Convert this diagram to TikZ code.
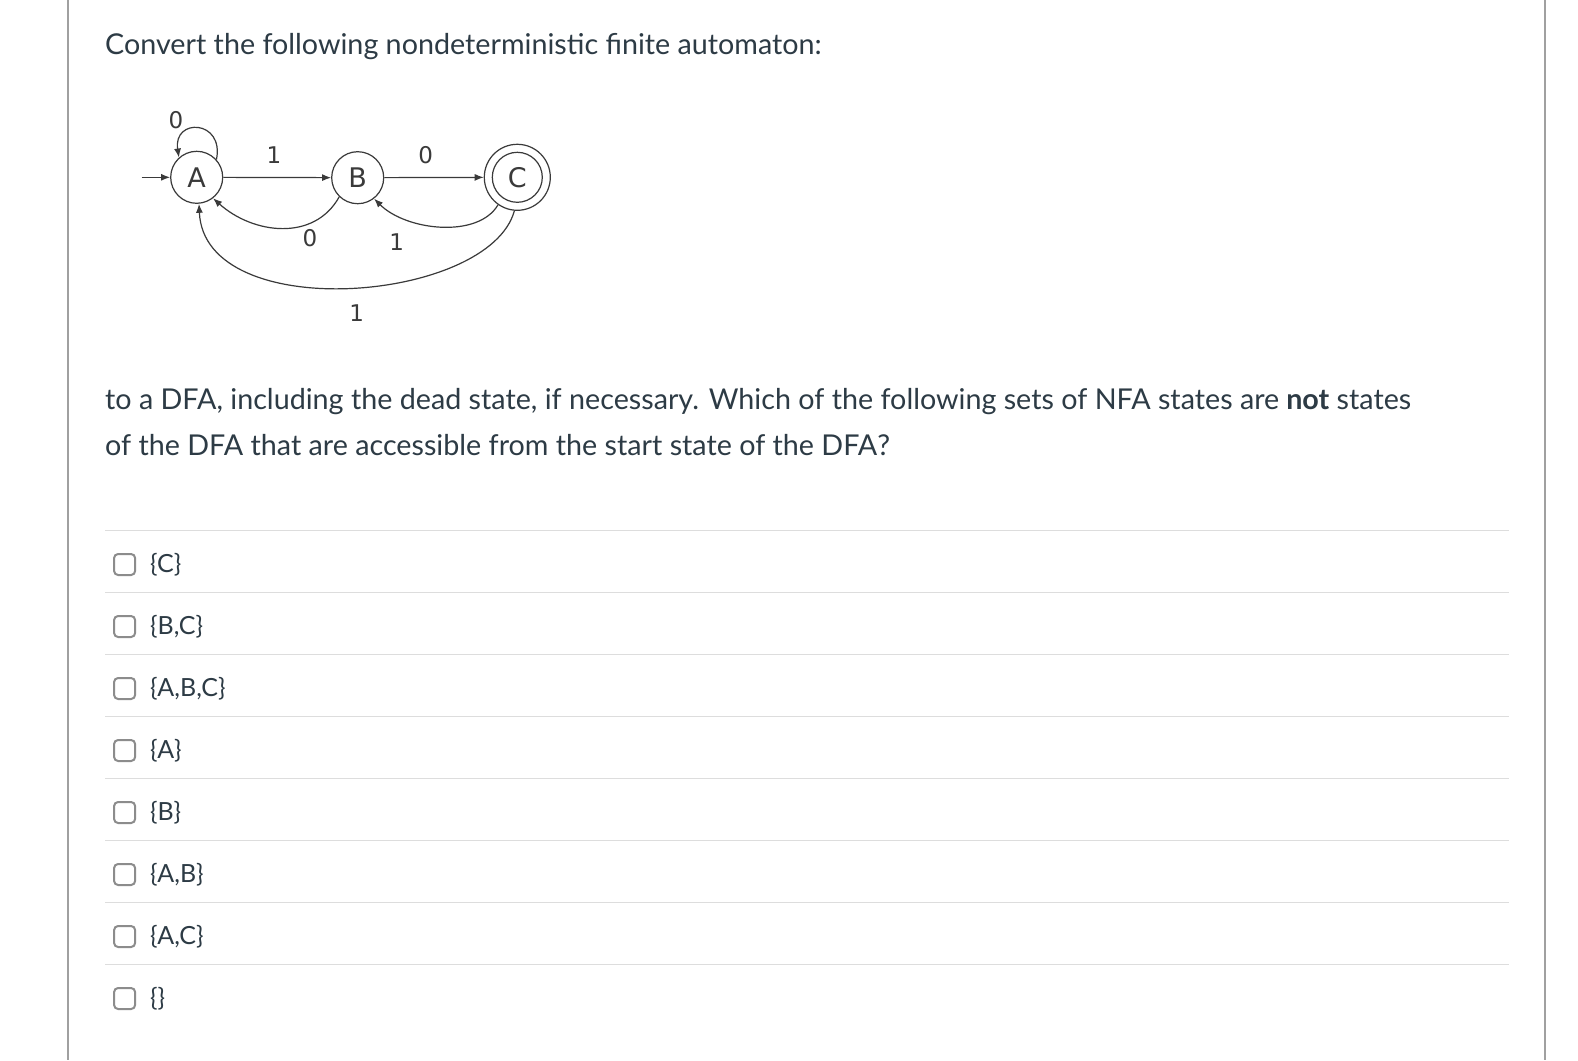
\documentclass[tikz,border=0pt]{standalone}
\usepackage{fontspec}
\setmainfont{Lato}
\newfontfamily\autofont{DejaVu Sans}
\usetikzlibrary{arrows.meta}
\definecolor{canvastext}{HTML}{2D3B45}
\definecolor{bordergray}{HTML}{A0A0A0}
\definecolor{rulegray}{HTML}{DDDDDD}
\definecolor{boxgray}{HTML}{8C8C8C}
\definecolor{nfagray}{HTML}{3A3A3A}
\tikzset{
  txt/.style={anchor=base west, inner sep=0pt, text=canvastext, font=\fontsize{28.7}{35}\selectfont},
  opttxt/.style={anchor=base west, inner sep=0pt, text=canvastext, font=\fontsize{25}{30}\selectfont},
  optbox/.style={draw=boxgray, line width=2pt, rounded corners=4pt, minimum size=21pt, inner sep=0pt},
  state/.style={circle, draw=nfagray, line width=1.2pt, minimum size=52pt, inner sep=0pt, text=nfagray, font=\autofont\fontsize{27}{30}\selectfont},
  lbl/.style={inner sep=0pt, text=nfagray, font=\autofont\fontsize{23}{26}\selectfont},
  trans/.style={draw=nfagray, line width=1.2pt, -{Latex[length=9pt,width=7pt]}},
}
\begin{document}
\begin{tikzpicture}[x=1pt,y=-1pt]
\useasboundingbox (0,0) rectangle (1578,1060);
\fill[white] (0,0) rectangle (1578,1060);
\draw[bordergray, line width=2pt] (68.3,0)--(68.3,1060);
\draw[bordergray, line width=2pt] (1545.3,0)--(1545.3,1060);

\node[txt] (title) at (105,54.3) {Convert the following nondeterministic finite automaton:};

\node[state] (A) at (196.7,177.3) {A};
\node[state] (B) at (357.7,177.7) {B};
\node[state, minimum size=66pt] (C) at (517.3,177.3) {C};
\draw[nfagray, line width=1.2pt] (C.center) circle[radius=25pt];
\coordinate (start) at (141.7,177.3);
\draw[trans] (start) -- (A);
\draw[trans] (A) -- (B);
\draw[trans] (B) -- (C);
\draw[trans] (A.42) .. controls +(8,-40) and +(-6,-40) .. (A.132);
\draw[trans] (B.226) .. controls +(-25,45) and +(40,36) .. (A.308);
\draw[trans] (C.235) .. controls +(-20,34) and +(32,32) .. (B.308);
\draw[trans] (C.265) .. controls +(-25,92) and +(5,122) .. (A.275);
\node[lbl] (lAA) at (176,120) {0};
\node[lbl] (lAB) at (274,155) {1};
\node[lbl] (lBC) at (425.7,155) {0};
\node[lbl] (lBA) at (310,238.3) {0};
\node[lbl] (lCB) at (396.7,241.7) {1};
\node[lbl] (lCA) at (356.7,313.3) {1};

\node[txt] (q1) at (105,409.3) {to a DFA, including the dead state, if necessary. Which of the following sets of NFA states are \textbf{not} states};
\node[txt] (q2) at (105,455) {of the DFA that are accessible from the start state of the DFA?};

\foreach \t [count=\i from 0] in {{\{C\}},{\{B,C\}},{\{A,B,C\}},{\{A\}},{\{B\}},{\{A,B\}},{\{A,C\}},{\{\}}}{
  \draw[rulegray, line width=1.5pt] (105,530.3+62*\i) -- (1509,530.3+62*\i);
  \node[optbox] (box\i) at (124.6,564.5+62*\i) {};
  \node[opttxt] (opt\i) at (150,572.7+62*\i) {\t};
}
\end{tikzpicture}
\end{document}
